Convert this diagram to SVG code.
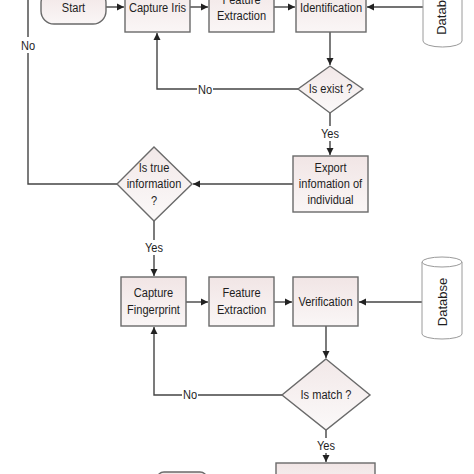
<svg xmlns="http://www.w3.org/2000/svg" width="474" height="474" viewBox="0 0 474 474">
<style>
.box{stroke:#6a6a6a;stroke-width:1.4;fill:url(#g)}
.dia{stroke:#6a6a6a;stroke-width:1.4;fill:url(#g2)}
.db{stroke:#9a9a9a;stroke-width:1;fill:#ffffff}
.ln{stroke:#444;stroke-width:1.4;fill:none}
.t{font-family:"Liberation Sans",Arial,sans-serif;font-size:13.5px;fill:#1e1e1e;text-anchor:middle}
.tw{font-family:"Liberation Sans",Arial,sans-serif;font-size:13px;fill:#1e1e1e;text-anchor:middle}
.lb{fill:#ffffff}
</style>
<defs>
<linearGradient id="g" x1="0" y1="0" x2="0" y2="1"><stop offset="0" stop-color="#f1e5e5"/><stop offset="1" stop-color="#faf6f6"/></linearGradient>
<linearGradient id="g2" x1="0" y1="0" x2="0" y2="1"><stop offset="0" stop-color="#f2e8e8"/><stop offset="1" stop-color="#fbf9f9"/></linearGradient>
<marker id="a" markerUnits="userSpaceOnUse" markerWidth="8" markerHeight="8" refX="7" refY="4" orient="auto"><path d="M0,0.5 L7,4 L0,7.5 z" fill="#222"/></marker>
</defs>
<rect width="474" height="474" fill="#ffffff"/>
<g id="connectors">
<path class="ln" d="M106,7 L124,7" marker-end="url(#a)"/>
<path class="ln" d="M190,7 L208,7" marker-end="url(#a)"/>
<path class="ln" d="M274,7 L295,7" marker-end="url(#a)"/>
<path class="ln" d="M423,7 L367,7" marker-end="url(#a)"/>
<path class="ln" d="M330,32 L330,65" marker-end="url(#a)"/>
<path class="ln" d="M298,89 L157,89 L157,33" marker-end="url(#a)"/>
<path class="ln" d="M330,113 L330,155" marker-end="url(#a)"/>
<path class="ln" d="M293,184 L193,184" marker-end="url(#a)"/>
<path class="ln" d="M117,184 L28,184 L28,-20 L73,-20"/>
<path class="ln" d="M154,221 L154,276" marker-end="url(#a)"/>
<path class="ln" d="M186,302 L208,302" marker-end="url(#a)"/>
<path class="ln" d="M274,302 L292,302" marker-end="url(#a)"/>
<path class="ln" d="M422,302 L359,302" marker-end="url(#a)"/>
<path class="ln" d="M326,326 L326,358" marker-end="url(#a)"/>
<path class="ln" d="M282,395 L154,395 L154,327" marker-end="url(#a)"/>
<path class="ln" d="M326,430 L326,462" marker-end="url(#a)"/>
<rect class="lb" x="21" y="37" width="14" height="16"/>
<text class="t" transform="translate(28,0) scale(0.82,1)" y="50">No</text>
<rect class="lb" x="197" y="82" width="16" height="14"/>
<text class="t" transform="translate(205,0) scale(0.82,1)" y="94">No</text>
<rect class="lb" x="320" y="126" width="20" height="15"/>
<text class="t" transform="translate(330,0) scale(0.82,1)" y="138.5">Yes</text>
<rect class="lb" x="144" y="240" width="20" height="15"/>
<text class="t" transform="translate(154,0) scale(0.82,1)" y="252.5">Yes</text>
<rect class="lb" x="182" y="387" width="16" height="14"/>
<text class="t" transform="translate(190,0) scale(0.82,1)" y="399">No</text>
<rect class="lb" x="316" y="438" width="20" height="15"/>
<text class="t" transform="translate(326,0) scale(0.82,1)" y="450.5">Yes</text>
</g>
<g id="start">
<rect class="box" x="41" y="-10" width="65" height="34" rx="13"/>
<text class="t" transform="translate(73.5,0) scale(0.82,1)" y="11.5">Start</text>
</g>
<g id="capture-iris">
<rect class="box" x="125" y="-17" width="65" height="49"/>
<text class="t" transform="translate(157.5,0) scale(0.82,1)" y="11.5">Capture Iris</text>
</g>
<g id="feature-extraction-1">
<rect class="box" x="209" y="-17" width="65" height="49"/>
<text class="t" transform="translate(241.5,0) scale(0.82,1)" y="3.5">Feature</text>
<text class="t" transform="translate(241.5,0) scale(0.82,1)" y="20">Extraction</text>
</g>
<g id="identification">
<rect class="box" x="296" y="-17" width="70" height="49"/>
<text class="t" transform="translate(331,0) scale(0.82,1)" y="11.5">Identification</text>
</g>
<g id="database-1">
<path class="db" d="M423,-40 L423,41 A19.5,6 0 0 0 462,41 L462,-40"/>
<text class="tw" transform="translate(446,7) rotate(-90)">Database</text>
</g>
<g id="is-exist">
<polygon class="dia" points="330,66 363,89 330,113 298,89"/>
<text class="t" transform="translate(330.5,0) scale(0.82,1)" y="93.5">Is exist ?</text>
</g>
<g id="export-info">
<rect class="box" x="293" y="156" width="75" height="56"/>
<text class="t" transform="translate(330.5,0) scale(0.82,1)" y="172.5">Export</text>
<text class="t" transform="translate(330.5,0) scale(0.82,1)" y="188.5">infomation of</text>
<text class="t" transform="translate(330.5,0) scale(0.82,1)" y="204">individual</text>
</g>
<g id="is-true-information">
<polygon class="dia" points="154,147 192,184 154,221 117,184"/>
<text class="t" transform="translate(154,0) scale(0.82,1)" y="172.5">Is true</text>
<text class="t" transform="translate(154,0) scale(0.82,1)" y="188.5">information</text>
<text class="t" transform="translate(154,0) scale(0.82,1)" y="205">?</text>
</g>
<g id="capture-fingerprint">
<rect class="box" x="121" y="277" width="65" height="49"/>
<text class="t" transform="translate(153.5,0) scale(0.82,1)" y="297.5">Capture</text>
<text class="t" transform="translate(153.5,0) scale(0.82,1)" y="314">Fingerprint</text>
</g>
<g id="feature-extraction-2">
<rect class="box" x="209" y="277" width="65" height="49"/>
<text class="t" transform="translate(241.5,0) scale(0.82,1)" y="297.5">Feature</text>
<text class="t" transform="translate(241.5,0) scale(0.82,1)" y="314">Extraction</text>
</g>
<g id="verification">
<rect class="box" x="293" y="277" width="65" height="49"/>
<text class="t" transform="translate(325.5,0) scale(0.82,1)" y="306.5">Verification</text>
</g>
<g id="database-2">
<path class="db" d="M422,262 L422,334 A20,5 0 0 0 462,334 L462,262"/>
<ellipse class="db" cx="442" cy="262" rx="20" ry="5"/>
<text class="tw" transform="translate(446.5,302) rotate(-90)">Databse</text>
</g>
<g id="is-match">
<polygon class="dia" points="326,359 370,395 326,430 282,395"/>
<text class="t" transform="translate(326,0) scale(0.82,1)" y="399.5">Is match ?</text>
</g>
<g id="result-box">
<rect class="box" x="276" y="463" width="99" height="30"/>
</g>
<g id="end">
<rect class="box" x="157" y="472" width="50" height="28" rx="7"/>
</g>
</svg>
